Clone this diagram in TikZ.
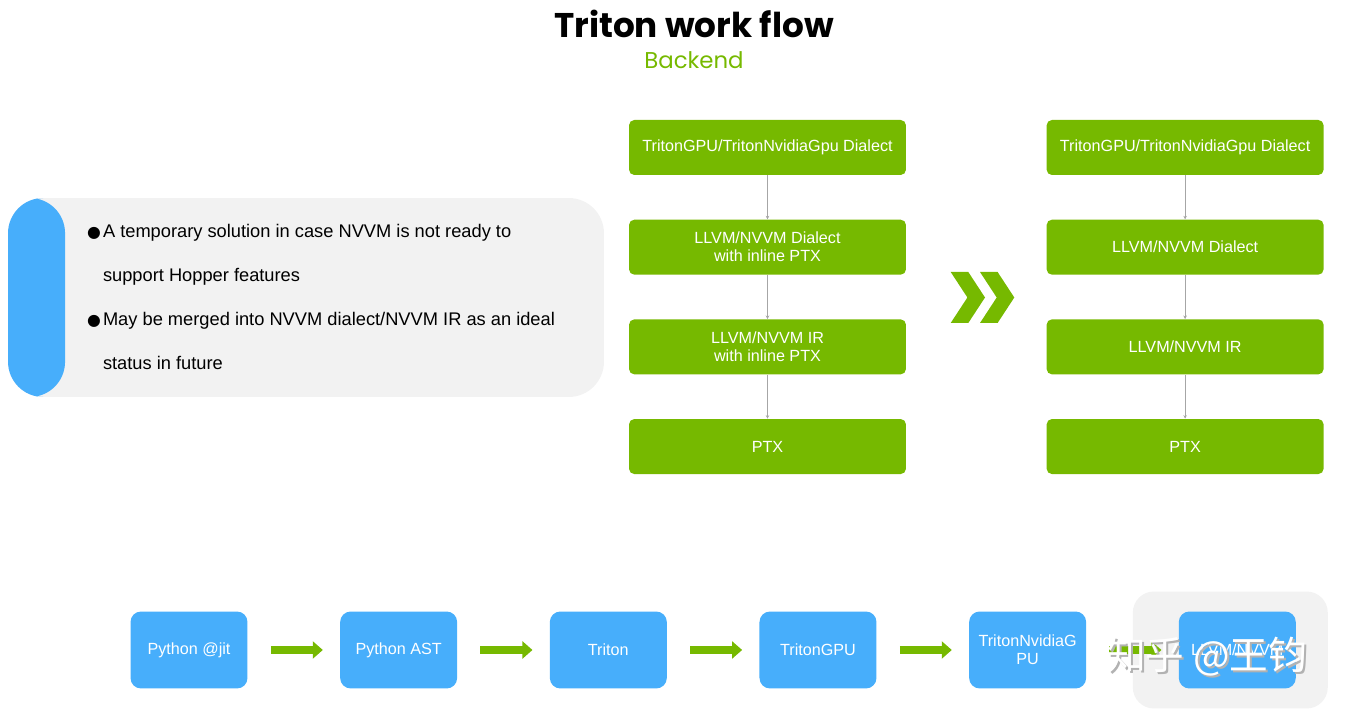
\documentclass[tikz,border=0pt]{standalone}
\usepackage{fontspec}
\setmainfont{Liberation Sans}
\newfontfamily\titlefont{Poppins}
\newfontfamily\symfont{DejaVu Sans}
\newfontfamily\cjk{Noto Sans CJK SC}
\usepackage{tikz}
\usetikzlibrary{arrows.meta, positioning, backgrounds}

\definecolor{nvgreen}{HTML}{76B900}
\definecolor{pyblue}{HTML}{47AEFB}
\definecolor{panelgray}{HTML}{F2F2F2}

\newcommand{\dotitem}{\makebox[9pt][l]{\symfont\fontsize{9}{9}\selectfont ●}}

\begin{document}
\begin{tikzpicture}[
        x=0.02cm, y=-0.02cm,
        irbox/.style={rectangle, fill=nvgreen, rounded corners=3pt, minimum width=5.54cm, minimum height=1.1cm, align=center, text=white, font=\fontsize{9.2}{10.2}\selectfont},
        flowbox/.style={rectangle, fill=pyblue, rounded corners=6pt, minimum width=2.34cm, minimum height=1.54cm, align=center, text=white, font=\fontsize{9.2}{10.2}\selectfont},
        panel/.style={rectangle, fill=panelgray, rounded corners=20pt, minimum width=11.92cm, minimum height=3.98cm},
        thinarrow/.style={-{Stealth[length=2pt, width=2pt]}, draw=gray!70, line width=0.4pt},
        flowarrow/.style={-{Triangle[width=9.6pt, length=5.7pt]}, line width=5pt, draw=nvgreen}
    ]
        \useasboundingbox (0,0) rectangle (1347,715);

        % Title
        \node[font=\titlefont\bfseries\fontsize{19.5}{22}\selectfont] (title) at (694,24) {Triton work flow};
        \node[font=\titlefont\fontsize{13}{15}\selectfont, text=nvgreen] (subtitle) at (694,60) {Backend};

        % Note panel
        \node[panel, path picture={\fill[pyblue] (path picture bounding box.north west) rectangle ([xshift=1.14cm]path picture bounding box.south west);}] (panel) at (306,297.5) {};
        \node[anchor=west, align=left, font=\fontsize{10.4}{24.9}\selectfont] (notes) at (81,297) {\dotitem A temporary solution in case NVVM is not ready to\\ \hphantom{\dotitem}support Hopper features\\ \dotitem May be merged into NVVM dialect/NVVM IR as an ideal\\ \hphantom{\dotitem}status in future};

        % Current lowering
        \node[irbox] (ttgpu) at (767.5,147.5) {TritonGPU/TritonNvidiaGpu Dialect};
        \node[irbox, below=0.88cm of ttgpu] (llvmdia) {LLVM/NVVM Dialect\\with inline PTX};
        \node[irbox, below=0.88cm of llvmdia] (llvmir) {LLVM/NVVM IR\\with inline PTX};
        \node[irbox, below=0.88cm of llvmir] (ptx) {PTX};

        % Future lowering
        \node[irbox, right=2.8cm of ttgpu] (ttgpunext) {TritonGPU/TritonNvidiaGpu Dialect};
        \node[irbox, below=0.88cm of ttgpunext] (llvmdianext) {LLVM/NVVM Dialect};
        \node[irbox, below=0.88cm of llvmdianext] (llvmirnext) {LLVM/NVVM IR};
        \node[irbox, below=0.88cm of llvmirnext] (ptxnext) {PTX};

        \foreach \a/\b in {ttgpu/llvmdia, llvmdia/llvmir, llvmir/ptx, ttgpunext/llvmdianext, llvmdianext/llvmirnext, llvmirnext/ptxnext}
            \draw[thinarrow] (\a) -- (\b);

        % Chevrons
        \foreach \dx in {0,29.3}
            \fill[nvgreen, shift={(\dx,0)}] (950.7,272) -- (968.3,272) -- (985,297.5) -- (968.3,323) -- (950.7,323) -- (967.4,297.5) -- cycle;

        % Front-end flow
        \node[flowbox] (jit) at (189,650) {Python @jit};
        \node[flowbox, right=1.84cm of jit] (ast) {Python AST};
        \node[flowbox, right=1.84cm of ast] (triton) {Triton};
        \node[flowbox, right=1.84cm of triton] (tgpu) {TritonGPU};
        \node[flowbox, right=1.84cm of tgpu] (tnvgpu) {TritonNvidiaG\\PU};
        \node[flowbox, right=1.84cm of tnvgpu] (llvm) {LLVM/NVVM};

        \begin{scope}[on background layer]
            \node[fill=panelgray, rounded corners=12pt, minimum width=3.9cm, minimum height=2.34cm] (llvmbg) at ([xshift=-0.14cm]llvm.center) {};
        \end{scope}

        \foreach \a/\b in {jit/ast, ast/triton, triton/tgpu, tgpu/tnvgpu, tnvgpu/llvm}
            \draw[flowarrow] ([xshift=0.46cm]\a.east) -- ([xshift=-0.34cm]\b.west);

        % Watermark
        \node[text=gray!60, font=\cjk\fontsize{22}{22}\selectfont] (wmshade) at (1209,659) {知乎 @王钧};
        \node[text=white, font=\cjk\fontsize{22}{22}\selectfont] (wm) at (1207,657) {知乎 @王钧};

    \end{tikzpicture}
\end{document}
